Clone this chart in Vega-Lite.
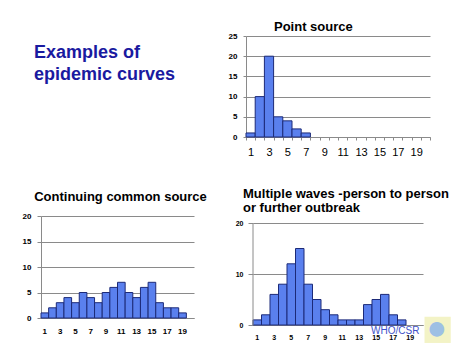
{
  "$schema": "https://vega.github.io/schema/vega-lite/v6.json",
  "background": "white",
  "padding": {"left": 22, "top": 21, "right": 5, "bottom": 5},
  "datasets": {
    "point": [
      {"day": 1, "cases": 1}, {"day": 2, "cases": 10}, {"day": 3, "cases": 20}, {"day": 4, "cases": 5},
      {"day": 5, "cases": 4}, {"day": 6, "cases": 2}, {"day": 7, "cases": 1}, {"day": 8, "cases": 0},
      {"day": 9, "cases": 0}, {"day": 10, "cases": 0}, {"day": 11, "cases": 0}, {"day": 12, "cases": 0},
      {"day": 13, "cases": 0}, {"day": 14, "cases": 0}, {"day": 15, "cases": 0}, {"day": 16, "cases": 0},
      {"day": 17, "cases": 0}, {"day": 18, "cases": 0}, {"day": 19, "cases": 0}, {"day": 20, "cases": 0}
    ],
    "continuing": [
      {"day": 1, "cases": 1}, {"day": 2, "cases": 2}, {"day": 3, "cases": 3}, {"day": 4, "cases": 4},
      {"day": 5, "cases": 3}, {"day": 6, "cases": 5}, {"day": 7, "cases": 4}, {"day": 8, "cases": 3},
      {"day": 9, "cases": 5}, {"day": 10, "cases": 6}, {"day": 11, "cases": 7}, {"day": 12, "cases": 5},
      {"day": 13, "cases": 4}, {"day": 14, "cases": 6}, {"day": 15, "cases": 7}, {"day": 16, "cases": 3},
      {"day": 17, "cases": 2}, {"day": 18, "cases": 2}, {"day": 19, "cases": 1}, {"day": 20, "cases": 0}
    ],
    "multiple": [
      {"day": 1, "cases": 1}, {"day": 2, "cases": 2}, {"day": 3, "cases": 6}, {"day": 4, "cases": 8},
      {"day": 5, "cases": 12}, {"day": 6, "cases": 15}, {"day": 7, "cases": 8}, {"day": 8, "cases": 5},
      {"day": 9, "cases": 3}, {"day": 10, "cases": 2}, {"day": 11, "cases": 1}, {"day": 12, "cases": 1},
      {"day": 13, "cases": 1}, {"day": 14, "cases": 4}, {"day": 15, "cases": 5}, {"day": 16, "cases": 6},
      {"day": 17, "cases": 2}, {"day": 18, "cases": 1}, {"day": 19, "cases": 0}, {"day": 20, "cases": 0}
    ],
    "axisline": [
      {"day": 1, "low": 0, "high": 20}
    ],
    "note": [
      {"day": 17, "cases": 0, "label": "WHO/CSR"}
    ],
    "logo": [
      {"day": 20, "cases": 0, "bg": "■", "emblem": "●"}
    ]
  },
  "bounds": "flush",
  "spacing": 180,
  "vconcat": [
    {
      "bounds": "flush",
      "spacing": 59,
      "hconcat": [
        {
          "width": 146,
          "height": 101,
          "title": {
            "text": ["Examples of", "epidemic curves"],
            "anchor": "start",
            "frame": "group",
            "offset": -48,
            "dx": -7,
            "fontSize": 18,
            "lineHeight": 22,
            "color": "#1a1aa0"
          },
          "data": {"values": []},
          "mark": "text",
          "encoding": {}
        },
        {
          "width": 184,
          "height": 101,
          "title": {"text": "Point source", "anchor": "start", "frame": "group", "dx": 28, "offset": -2},
          "data": {"name": "point"},
          "transform": [{"filter": "datum.cases > 0"}],
          "mark": {"type": "bar", "fill": "#5a80ee", "stroke": "#1c2a78", "strokeWidth": 1},
          "encoding": {
            "x": {
              "field": "day", "type": "ordinal",
              "scale": {"domain": [1,2,3,4,5,6,7,8,9,10,11,12,13,14,15,16,17,18,19,20], "paddingInner": 0, "paddingOuter": 0},
              "axis": {"title": null, "labelAngle": 0, "labelExpr": "datum.value % 2 == 1 ? datum.label : ''", "labelOverlap": false, "tickBand": "extent", "tickSize": 3, "labelPadding": 6, "labelFontSize": 11, "labelFontWeight": "normal"}
            },
            "y": {
              "field": "cases", "type": "quantitative",
              "scale": {"domain": [0, 25], "nice": false},
              "axis": {"title": null, "values": [0,5,10,15,20,25], "grid": true, "labelOverlap": false, "tickSize": 3, "labelPadding": 6, "labelFontSize": 8, "labelFontWeight": "bold"}
            }
          }
        }
      ]
    },
    {
      "bounds": "flush",
      "spacing": 59,
      "hconcat": [
        {
          "width": 153,
          "height": 102,
          "title": {"text": "Continuing common source", "anchor": "middle", "frame": "group", "dx": 3, "offset": 8},
          "data": {"name": "continuing"},
          "transform": [{"filter": "datum.cases > 0"}],
          "mark": {"type": "bar", "fill": "#5a80ee", "stroke": "#1c2a78", "strokeWidth": 1},
          "encoding": {
            "x": {
              "field": "day", "type": "ordinal",
              "scale": {"domain": [1,2,3,4,5,6,7,8,9,10,11,12,13,14,15,16,17,18,19,20], "paddingInner": 0, "paddingOuter": 0},
              "axis": {"title": null, "labelAngle": 0, "labelExpr": "datum.value % 2 == 1 ? datum.label : ''", "labelOverlap": false, "ticks": false, "labelPadding": 9, "labelFontSize": 8, "labelFontWeight": "bold"}
            },
            "y": {
              "field": "cases", "type": "quantitative",
              "scale": {"domain": [0, 20], "nice": false},
              "axis": {"title": null, "values": [0,5,10,15,20], "grid": true, "labelOverlap": false, "tickSize": 4, "labelPadding": 6, "labelFontSize": 8, "labelFontWeight": "bold"}
            }
          }
        },
        {
          "width": 170,
          "height": 109,
          "title": {"text": ["Multiple waves -person to person", "or further outbreak"], "anchor": "start", "frame": "group", "dx": -10, "offset": 1, "lineHeight": 14},
          "layer": [
            {
              "data": {"name": "multiple"},
              "transform": [{"filter": "datum.cases > 0"}],
              "mark": {"type": "bar", "fill": "#5a80ee", "stroke": "#1c2a78", "strokeWidth": 1},
              "encoding": {
                "x": {
                  "field": "day", "type": "ordinal",
                  "scale": {"domain": [1,2,3,4,5,6,7,8,9,10,11,12,13,14,15,16,17,18,19,20], "paddingInner": 0, "paddingOuter": 0},
                  "axis": {"title": null, "labelAngle": 0, "labelExpr": "datum.value % 2 == 1 ? datum.label : ''", "labelOverlap": false, "ticks": false, "labelPadding": 8, "labelFontSize": 7, "labelFontWeight": "bold"}
                },
                "y": {
                  "field": "cases", "type": "quantitative",
                  "scale": {"domain": [0, 21.373], "nice": false},
                  "axis": {"title": null, "values": [0,5,10,15,20], "grid": true, "domain": false, "labelOverlap": false, "tickSize": 5, "labelPadding": 5, "labelFontSize": 7, "labelFontWeight": "bold"}
                }
              }
            },
            {
              "data": {"name": "axisline"},
              "mark": {"type": "rule", "color": "#8a8a8a", "strokeWidth": 1},
              "encoding": {
                "x": {"field": "day", "type": "ordinal", "bandPosition": 0},
                "y": {"field": "low", "type": "quantitative"},
                "y2": {"field": "high"}
              }
            },
            {
              "data": {"name": "logo"},
              "mark": {"type": "text", "color": "#f3f3c6", "fontSize": 54, "baseline": "middle", "dy": 5, "dx": 19},
              "encoding": {
                "x": {"field": "day", "type": "ordinal"},
                "y": {"field": "cases", "type": "quantitative"},
                "text": {"field": "bg"}
              }
            },
            {
              "data": {"name": "logo"},
              "mark": {"type": "text", "color": "#9ec0e4", "fontSize": 34, "baseline": "middle", "dy": 4, "dx": 18},
              "encoding": {
                "x": {"field": "day", "type": "ordinal"},
                "y": {"field": "cases", "type": "quantitative"},
                "text": {"field": "emblem"}
              }
            },
            {
              "data": {"name": "note"},
              "mark": {"type": "text", "color": "#4152c8", "fontSize": 10, "baseline": "middle", "dy": 6, "dx": 2},
              "encoding": {
                "x": {"field": "day", "type": "ordinal"},
                "y": {"field": "cases", "type": "quantitative"},
                "text": {"field": "label"}
              }
            }
          ]
        }
      ]
    }
  ],
  "config": {
    "font": "Liberation Sans",
    "view": {"stroke": null},
    "axis": {
      "domainColor": "#8a8a8a",
      "gridColor": "#8a8a8a",
      "tickColor": "#8a8a8a",
      "labelColor": "black",
      "labelFont": "Liberation Sans"
    },
    "title": {"font": "Liberation Sans", "fontWeight": "bold", "color": "black", "fontSize": 13}
  }
}
